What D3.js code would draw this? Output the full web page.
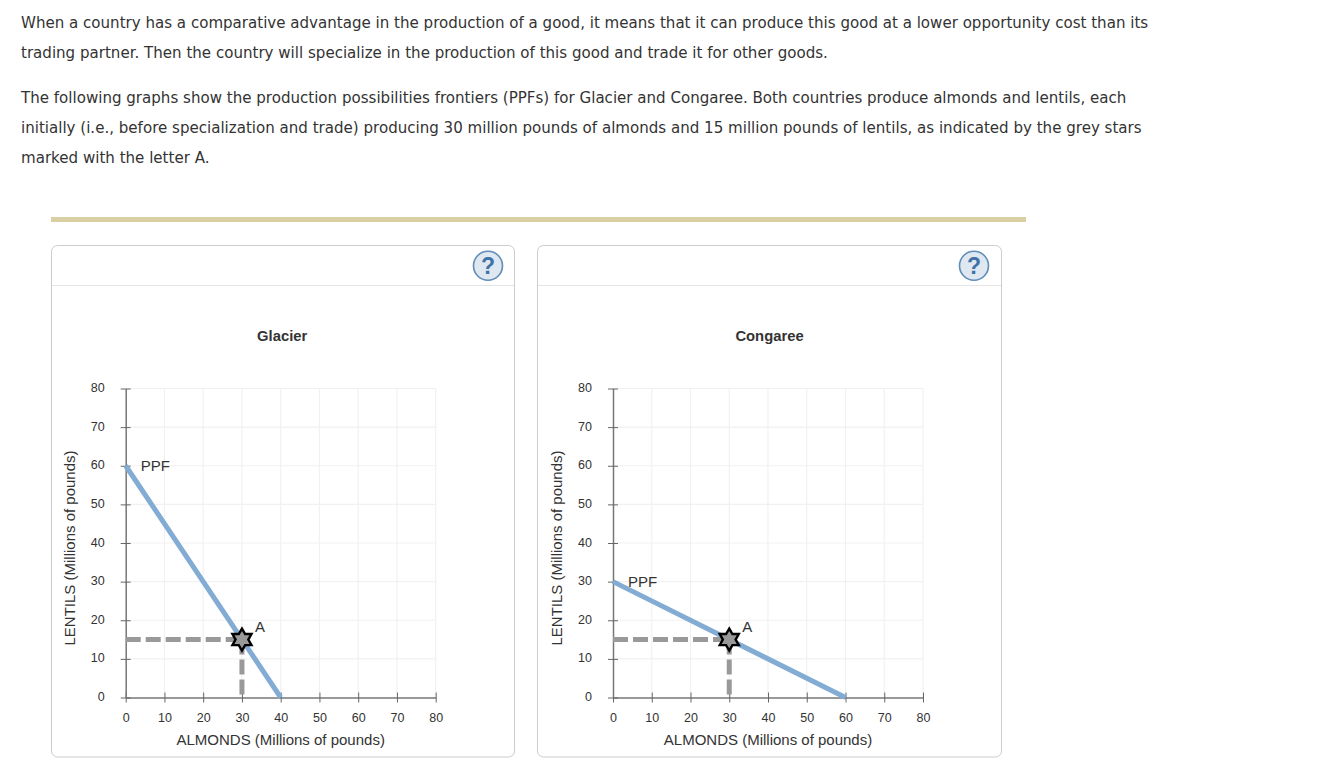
<!DOCTYPE html>
<html>
<head>
<meta charset="utf-8">
<script src="https://cdn.jsdelivr.net/npm/d3@7/dist/d3.min.js"></script>
<style>
  html, body { margin: 0; padding: 0; background: #fff; }
  svg { display: block; }
  .para { font-family: "DejaVu Sans", sans-serif; font-size: 15.07px; fill: #333; }
  .chart text { font-family: "Liberation Sans", sans-serif; fill: #333; }
</style>
</head>
<body>
<svg id="page" width="1323" height="778"></svg>
<script>
const paragraphLines = [
  "When a country has a comparative advantage in the production of a good, it means that it can produce this good at a lower opportunity cost than its",
  "trading partner. Then the country will specialize in the production of this good and trade it for other goods.",
  "The following graphs show the production possibilities frontiers (PPFs) for Glacier and Congaree. Both countries produce almonds and lentils, each",
  "initially (i.e., before specialization and trade) producing 30 million pounds of almonds and 15 million pounds of lentils, as indicated by the grey stars",
  "marked with the letter A."
];
const paragraphY = [28, 58, 103, 133, 163];

const tickValues = [0, 10, 20, 30, 40, 50, 60, 70, 80];
const countries = ["Glacier", "Congaree"];
const maxAlmonds = [40, 60];
const maxLentils = [60, 30];
const pointA = [30, 15];
const xTitle = "ALMONDS (Millions of pounds)";
const yTitle = "LENTILS (Millions of pounds)";

const panelLeft = [52, 538];
const panelWidth = [463, 464];
const plotLeft = [125.7, 613];
const plotWidth = 310;
const plotTop = 388.5;
const plotHeight = 309;

const svg = d3.select("#page");

// Intro text
svg.selectAll("text.para")
  .data(paragraphLines)
  .join("text")
  .attr("class", "para")
  .attr("x", 21)
  .attr("y", (d, i) => paragraphY[i])
  .text((d) => d);

// Divider
svg.append("rect")
  .attr("x", 51).attr("y", 217)
  .attr("width", 975).attr("height", 5)
  .attr("fill", "#d8d0a2");

function sixStar(cx, cy, r) {
  const pts = d3.range(12).map((i) => {
    const a = (i * Math.PI) / 6 - Math.PI / 2;
    const rad = i % 2 ? r * 0.58 : r;
    return [cx + rad * Math.cos(a), cy + rad * Math.sin(a)];
  });
  return d3.line()(pts) + "Z";
}

countries.forEach((name, i) => {
  const g = svg.append("g").attr("class", "chart");
  const left = panelLeft[i];
  const panelW = panelWidth[i];

  // Panel box and header
  g.append("rect")
    .attr("x", left - 0.5).attr("y", 245.5)
    .attr("width", panelW).attr("height", 511.5)
    .attr("rx", 6)
    .attr("fill", "#fff")
    .attr("stroke", "#cccccc");
  g.append("line")
    .attr("x1", left).attr("x2", left + panelW - 1)
    .attr("y1", 285.5).attr("y2", 285.5)
    .attr("stroke", "#e4e4e4");

  // Help button
  const helpX = left + 436;
  g.append("circle")
    .attr("cx", helpX).attr("cy", 265.7).attr("r", 14.5)
    .attr("fill", "#dfe8f1")
    .attr("stroke", "#5f8db8")
    .attr("stroke-width", 1.6);
  g.append("text")
    .attr("x", helpX).attr("y", 274)
    .attr("text-anchor", "middle")
    .attr("font-size", 23)
    .attr("font-weight", "bold")
    .style("fill", "#3f72a6")
    .text("?");

  const x = d3.scaleLinear().domain([0, 80]).range([plotLeft[i], plotLeft[i] + plotWidth]);
  const y = d3.scaleLinear().domain([0, 80]).range([plotTop + plotHeight, plotTop]);

  // Grid
  g.append("g").selectAll("line")
    .data(tickValues.slice(1))
    .join("line")
    .attr("x1", (d) => x(d)).attr("x2", (d) => x(d))
    .attr("y1", y(0)).attr("y2", y(80))
    .attr("stroke", "#f1f1f1").attr("stroke-width", 1.2);
  g.append("g").selectAll("line")
    .data(tickValues.slice(1))
    .join("line")
    .attr("x1", x(0)).attr("x2", x(80))
    .attr("y1", (d) => y(d)).attr("y2", (d) => y(d))
    .attr("stroke", "#f1f1f1").attr("stroke-width", 1.2);

  // Axes
  const xAxis = g.append("g")
    .attr("transform", `translate(0,${y(0)})`)
    .call(d3.axisBottom(x).tickValues(tickValues).tickSize(5).tickPadding(10.5).tickSizeOuter(0));
  xAxis.selectAll(".tick line").attr("y1", -5).attr("y2", 5).attr("stroke", "#666");
  xAxis.select("path").attr("stroke", "#777").attr("stroke-width", 1.5);
  xAxis.selectAll("text").attr("font-size", 12.5).attr("font-family", "Liberation Sans");

  const yAxis = g.append("g")
    .attr("transform", `translate(${x(0)},0)`)
    .call(d3.axisLeft(y).tickValues(tickValues).tickSize(5).tickPadding(16).tickSizeOuter(0));
  yAxis.selectAll(".tick line").attr("x1", -5).attr("x2", 5).attr("stroke", "#666");
  yAxis.select("path").attr("stroke", "#777").attr("stroke-width", 1.5);
  yAxis.selectAll("text")
    .attr("font-size", 12.5)
    .attr("font-family", "Liberation Sans")
    .attr("dy", "0.24em");

  // Titles
  g.append("text")
    .attr("x", x(40) + 1.5).attr("y", 340.5)
    .attr("text-anchor", "middle")
    .attr("font-size", 14.8).attr("font-weight", "bold")
    .text(name);
  g.append("text")
    .attr("x", x(40)).attr("y", 744.5)
    .attr("text-anchor", "middle")
    .attr("font-size", 15)
    .text(xTitle);
  g.append("text")
    .attr("transform", `translate(${x(0) - 51},${y(40) + 5}) rotate(-90)`)
    .attr("text-anchor", "middle")
    .attr("font-size", 15)
    .text(yTitle);

  // PPF
  g.append("path")
    .attr("d", d3.line()([[x(0), y(maxLentils[i])], [x(maxAlmonds[i]), y(0)]]))
    .attr("stroke", "#82acd3")
    .attr("stroke-width", 5)
    .attr("fill", "none");
  g.append("text")
    .attr("x", x(0) + 15).attr("y", y(maxLentils[i]) + 5.5)
    .attr("font-size", 15)
    .text("PPF");

  // Drop lines from point A to the axes
  const dash = g.append("g")
    .attr("stroke", "#999")
    .attr("stroke-width", 5)
    .attr("stroke-dasharray", "15 5");
  dash.append("line")
    .attr("x1", x(0)).attr("x2", x(pointA[0]))
    .attr("y1", y(pointA[1])).attr("y2", y(pointA[1]));
  dash.append("line")
    .attr("x1", x(pointA[0])).attr("x2", x(pointA[0]))
    .attr("y1", y(pointA[1])).attr("y2", y(0));

  // Point A
  g.append("path")
    .attr("d", sixStar(x(pointA[0]), y(pointA[1]), 11))
    .attr("fill", "#999")
    .attr("stroke", "#000")
    .attr("stroke-width", 2.4);
  g.append("text")
    .attr("x", x(pointA[0]) + 13).attr("y", y(pointA[1]) - 7.5)
    .attr("font-size", 15)
    .text("A");
});
</script>
</body>
</html>
